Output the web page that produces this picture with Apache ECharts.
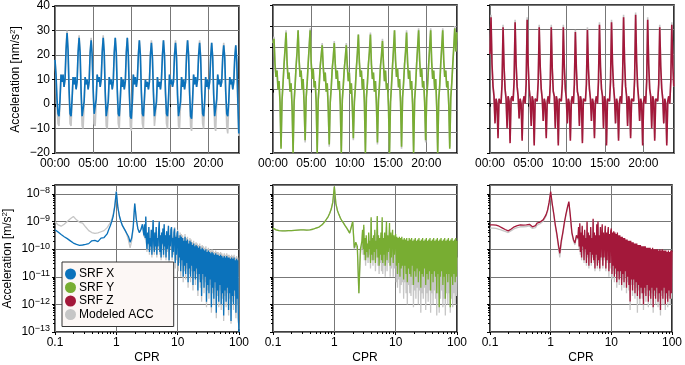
<!DOCTYPE html>
<html>
<head>
<meta charset="utf-8">
<script src="https://cdn.jsdelivr.net/npm/echarts@6/dist/echarts.min.js"></script>
<style>
  html, body { margin: 0; padding: 0; background: #fff; }
  #main { width: 685px; height: 365px; }
</style>
</head>
<body>
<div id="main"></div>
<script>
// time series, one sample every 7.86 min (12 samples per orbit), nm/s^2
var sampleMinutes = 7.86;

var accX = [
  18, 12, 2, -4, -5, 2, 12, 9, 12, 7, 10, 22,
  29, 22, 6, -4, -5, 2, 11, 8, 11, 6, 9, 21,
  27, 21, 5, -5, -5, 1, 11, 8, 10, 6, 9, 21,
  26, 20, 6, -4, -4, 2, 12, 9, 11, 7, 10, 21,
  27, 21, 5, -5, -5, 1, 11, 8, 10, 6, 9, 21,
  27, 21, 6, -4, -5, 2, 11, 7, 10, 6, 9, 21,
  27, 20, 5, -5, -6, 1, 12, 8, 11, 7, 10, 20,
  26, 20, 5, -4, -5, 2, 10, 7, 9, 6, 9, 20,
  25, 19, 5, -5, -5, 1, 11, 7, 9, 6, 10, 20,
  26, 20, 5, -4, -5, 2, 12, 8, 10, 7, 9, 20,
  25, 19, 4, -5, -5, 1, 11, 7, 10, 6, 9, 20,
  26, 20, 5, -5, -6, 2, 12, 8, 11, 7, 10, 20,
  25, 19, 5, -4, -5, 1, 11, 7, 10, 6, 9, 19,
  25, 19, 4, -5, -5, 2, 12, 8, 10, 7, 9, 19,
  24, 19, 5, -4, -5, 1, 11, 8, 10, 6, 9, 19,
  24, 17, 2, -12
];
var modelX = [
  18, 11, 0, -8, -9, 1, 12, 9, 12, 7, 10, 23,
  30, 22, 5, -8, -9, 1, 11, 8, 11, 6, 9, 21,
  28, 21, 4, -9, -10, 0, 11, 8, 10, 6, 9, 21,
  27, 20, 5, -8, -9, 1, 12, 9, 11, 7, 10, 21,
  28, 21, 4, -9, -10, 0, 11, 8, 10, 6, 9, 21,
  27, 21, 5, -8, -10, 1, 11, 7, 10, 6, 9, 21,
  27, 20, 4, -9, -11, 0, 12, 8, 11, 7, 10, 20,
  26, 20, 4, -8, -10, 1, 10, 7, 9, 6, 9, 20,
  26, 19, 4, -9, -9, 0, 11, 7, 9, 6, 10, 20,
  26, 20, 4, -8, -10, 1, 12, 8, 10, 7, 9, 20,
  26, 19, 3, -9, -10, 0, 11, 7, 10, 6, 9, 20,
  26, 20, 4, -9, -11, 1, 12, 8, 11, 7, 10, 20,
  26, 19, 4, -8, -10, 0, 11, 7, 10, 6, 9, 19,
  25, 19, 3, -9, -11, 1, 12, 8, 10, 7, 9, 19,
  25, 19, 4, -9, -12, 0, 11, 8, 10, 6, 9, 19,
  24, 17, 0, -13
];
var accY = [
  22, 24, 12, 6, 9, 0, 4, -6, -28, -5, 3, 12,
  19, 27, 13, 5, 8, -1, 3, -8, -30, -6, 2, 11,
  18, 28, 14, 6, 9, 0, 5, -7, -24, -4, 3, 12,
  20, 28, 13, 5, 10, 1, 4, -6, -30, -5, 2, 11,
  16, 21, 11, 4, 8, -1, 3, -9, -26, -6, 1, 10,
  15, 22, 12, 5, 9, 0, 4, -7, -30, -5, 2, 10,
  15, 21, 11, 4, 8, -2, 3, -8, -23, -6, 1, 10,
  17, 26, 13, 6, 9, 0, 5, -6, -30, -4, 3, 12,
  18, 26, 12, 5, 8, -1, 4, -7, -25, -5, 2, 11,
  16, 23, 12, 4, 9, 0, 3, -8, -30, -6, 2, 11,
  19, 28, 14, 6, 10, 1, 5, -6, -27, -4, 3, 12,
  18, 27, 13, 5, 9, 0, 4, -7, -30, -5, 2, 12,
  20, 28, 14, 6, 10, 1, 4, -6, -24, -4, 3, 12,
  20, 28, 13, 5, 9, 0, 5, -8, -30, -5, 2, 12,
  20, 28, 14, 6, 9, 1, 4, -7, -28, -4, 3, 12,
  20, 29, 18, 27
];
var modelY = [
  22, 25, 12, 6, 9, 0, 4, -6, -27, -5, 3, 12,
  19, 28, 13, 5, 8, -1, 3, -8, -29, -6, 2, 11,
  18, 28, 14, 6, 9, 0, 5, -7, -25, -4, 3, 12,
  20, 29, 13, 5, 10, 1, 4, -6, -29, -5, 2, 11,
  16, 22, 11, 4, 8, -1, 3, -9, -27, -6, 1, 10,
  15, 23, 12, 5, 9, 0, 4, -7, -29, -5, 2, 10,
  15, 22, 11, 4, 8, -2, 3, -8, -24, -6, 1, 10,
  17, 26, 13, 6, 9, 0, 5, -6, -29, -4, 3, 12,
  18, 27, 12, 5, 8, -1, 4, -7, -26, -5, 2, 11,
  16, 24, 12, 4, 9, 0, 3, -8, -29, -6, 2, 11,
  19, 28, 14, 6, 10, 1, 5, -6, -28, -4, 3, 12,
  18, 28, 13, 5, 9, 0, 4, -7, -29, -5, 2, 12,
  20, 29, 14, 6, 10, 1, 4, -6, -25, -4, 3, 12,
  20, 29, 13, 5, 9, 0, 5, -8, -29, -5, 2, 12,
  20, 29, 14, 6, 9, 1, 4, -7, -27, -4, 3, 12,
  20, 30, 18, 27
];
var accZ = [
  20, 35, 16, 7, 3, -8, 2, 0, -14, 2, 1, 0,
  8, 31, 15, 6, 2, -10, 3, 1, -16, 2, 3, 1,
  9, 33, 16, 7, 3, -6, 2, 0, -15, 1, 3, 0,
  8, 34, 16, 6, 2, -9, 3, 1, -17, 2, 2, 1,
  9, 31, 15, 6, 2, -7, 2, 0, -14, 1, 3, 0,
  8, 31, 14, 5, 3, -10, 3, 1, -17, 2, 2, 1,
  8, 31, 15, 6, 2, -8, 2, 0, -15, 1, 3, 0,
  8, 29, 14, 5, 3, -9, 3, 1, -16, 2, 2, 1,
  8, 30, 14, 6, 2, -7, 2, 0, -14, 1, 3, 0,
  9, 32, 15, 6, 3, -10, 3, 1, -17, 2, 2, 1,
  9, 33, 16, 7, 2, -8, 2, 0, -15, 1, 3, 0,
  10, 35, 17, 7, 3, -9, 3, 1, -14, 2, 2, 1,
  10, 36, 17, 7, 2, -7, 2, 0, -17, 1, 3, 0,
  9, 34, 16, 6, 3, -10, 3, 1, -15, 2, 2, 1,
  8, 31, 15, 6, 2, -8, 2, 0, -17, 1, 3, 0,
  9, 32, 16, 7
];
var modelZ = [
  20, 36, 16, 7, 3, -7, 2, 0, -13, 2, 1, 0,
  8, 32, 15, 6, 2, -9, 3, 1, -15, 2, 3, 1,
  9, 34, 16, 7, 3, -6, 2, 0, -14, 1, 3, 0,
  8, 35, 16, 6, 2, -8, 3, 1, -16, 2, 2, 1,
  9, 32, 15, 6, 2, -7, 2, 0, -13, 1, 3, 0,
  8, 32, 14, 5, 3, -9, 3, 1, -16, 2, 2, 1,
  8, 32, 15, 6, 2, -8, 2, 0, -14, 1, 3, 0,
  8, 30, 14, 5, 3, -8, 3, 1, -15, 2, 2, 1,
  8, 31, 14, 6, 2, -7, 2, 0, -13, 1, 3, 0,
  9, 33, 15, 6, 3, -9, 3, 1, -16, 2, 2, 1,
  9, 34, 16, 7, 2, -8, 2, 0, -14, 1, 3, 0,
  10, 36, 17, 7, 3, -8, 3, 1, -13, 2, 2, 1,
  10, 37, 17, 7, 2, -7, 2, 0, -16, 1, 3, 0,
  9, 35, 16, 6, 3, -9, 3, 1, -14, 2, 2, 1,
  8, 32, 15, 6, 2, -8, 2, 0, -16, 1, 3, 0,
  9, 33, 16, 7
];

// amplitude spectra, log10(m/s^2)
// low band: 40 points per decade from 0.1 CPR (58 points, up to ~2.7 CPR)
var lowFirstCpr = 0.1, lowPerDecade = 40;
// high band: 100 points per decade from 10^0.45 (~2.8 CPR) to 100 CPR
var highFirstLog = 0.45, highPerDecade = 100;

var specXLow = [
  -9.30, -9.34, -9.38, -9.43, -9.47, -9.51, -9.55, -9.59, -9.62, -9.66,
  -9.70, -9.74, -9.78, -9.81, -9.83, -9.85, -9.86, -9.86, -9.85, -9.84,
  -9.83, -9.82, -9.80, -9.76, -9.70, -9.66, -9.68, -9.72, -9.73, -9.70,
  -9.60, -9.56, -9.58, -9.54, -9.45, -9.30, -9.16, -9.00, -8.80, -8.45,
  -7.92, -8.50, -8.80, -9.00, -9.15, -9.25, -9.35, -9.45, -9.55, -9.75,
  -9.60, -9.20, -8.35, -8.90, -9.25, -9.40, -9.30, -9.10
];
var specXHigh = [
  -9.50, -9.10, -9.60, -8.82, -9.70, -10.00, -9.40, -9.80, -9.20, -10.10,
  -9.60, -9.90, -9.30, -10.20, -9.50, -8.95, -9.80, -10.10, -9.40, -9.90,
  -9.20, -10.20, -9.60, -9.90, -9.30, -9.00, -10.10, -9.50, -10.30, -9.40,
  -9.80, -9.25, -10.20, -9.10, -9.90, -9.50, -10.30, -9.35, -10.00, -9.60,
  -9.15, -10.40, -9.50, -9.90, -9.30, -9.20, -10.30, -9.60, -10.10, -9.40,
  -9.25, -10.50, -9.55, -10.20, -9.45, -9.35, -10.60, -9.60, -10.30, -9.50,
  -10.80, -9.55, -10.40, -9.60, -11.00, -9.70, -10.60, -9.55, -10.90, -9.70,
  -10.50, -9.65, -11.20, -9.80, -10.70, -9.70, -11.00, -9.75, -10.60, -9.85,
  -11.30, -9.80, -10.80, -9.90, -11.10, -9.85, -10.70, -9.90, -11.50, -9.95,
  -10.90, -9.90, -11.20, -10.00, -11.70, -9.95, -10.90, -10.00, -11.40, -10.05,
  -11.00, -10.00, -11.90, -10.10, -11.30, -10.05, -11.60, -10.10, -11.10, -10.15,
  -12.10, -10.10, -11.40, -10.15, -11.80, -10.20, -11.20, -10.15, -12.30, -10.20,
  -11.50, -10.20, -11.90, -10.25, -11.30, -10.20, -12.00, -10.25, -11.60, -10.30,
  -12.40, -10.25, -11.50, -10.30, -11.90, -10.25, -11.40, -10.30, -12.20, -10.30,
  -11.60, -10.35, -12.60, -10.30, -11.70, -10.35, -12.00, -10.30, -11.50, -10.40,
  -12.30, -10.35, -11.80, -10.40, -12.50, -13.00
];
var specModelXLow = [
  -9.02, -9.08, -9.12, -9.15, -9.17, -9.15, -9.10, -9.05, -9.00, -8.95,
  -8.90, -8.86, -8.82, -8.88, -8.94, -9.00, -9.03, -9.05, -9.06, -9.12,
  -9.20, -9.27, -9.33, -9.37, -9.40, -9.42, -9.43, -9.42, -9.41, -9.39,
  -9.37, -9.36, -9.33, -9.28, -9.22, -9.15, -9.05, -8.92, -8.72, -8.40,
  -7.90, -8.48, -8.80, -9.00, -9.15, -9.25, -9.35, -9.50, -9.70, -9.95,
  -9.70, -9.25, -8.35, -8.90, -9.25, -9.40, -9.35, -9.15
];
var specModelXHigh = [
  -9.55, -9.15, -9.65, -8.85, -9.75, -10.10, -9.45, -9.85, -9.20, -10.20,
  -9.60, -10.00, -9.30, -10.30, -9.50, -9.00, -9.85, -10.20, -9.40, -10.00,
  -9.20, -10.30, -9.60, -10.00, -9.30, -9.05, -10.20, -9.50, -10.40, -9.40,
  -9.85, -9.25, -10.30, -9.10, -10.00, -9.50, -10.40, -9.35, -10.10, -9.60,
  -9.15, -10.50, -9.50, -10.00, -9.30, -9.20, -10.40, -9.55, -10.20, -9.40,
  -9.20, -10.70, -9.50, -10.40, -9.40, -9.30, -10.80, -9.50, -10.50, -9.40,
  -11.00, -9.45, -10.60, -9.50, -11.20, -9.60, -10.80, -9.45, -11.10, -9.60,
  -10.70, -9.55, -11.40, -9.70, -10.90, -9.60, -11.20, -9.65, -10.80, -9.75,
  -11.50, -9.70, -11.00, -9.80, -11.30, -9.75, -10.90, -9.80, -11.70, -9.85,
  -11.10, -9.80, -11.40, -9.90, -11.90, -9.85, -11.10, -9.90, -11.60, -9.95,
  -11.20, -9.90, -12.10, -10.00, -11.50, -9.95, -11.80, -10.00, -11.30, -10.05,
  -12.30, -10.00, -11.60, -10.05, -12.00, -10.10, -11.40, -10.05, -12.50, -10.10,
  -11.70, -10.10, -12.10, -10.15, -11.50, -10.10, -12.20, -10.15, -11.80, -10.20,
  -12.60, -10.15, -11.70, -10.20, -12.10, -10.15, -11.60, -10.20, -12.40, -10.20,
  -11.80, -10.25, -12.70, -10.20, -11.90, -10.25, -12.20, -10.20, -11.70, -10.30,
  -12.50, -10.25, -12.00, -10.30, -12.60, -12.90
];
var specYLow = [
  -9.24, -9.27, -9.30, -9.32, -9.33, -9.34, -9.34, -9.34, -9.34, -9.33,
  -9.33, -9.33, -9.33, -9.32, -9.32, -9.32, -9.31, -9.31, -9.30, -9.30,
  -9.30, -9.30, -9.31, -9.31, -9.30, -9.29, -9.28, -9.26, -9.24, -9.22,
  -9.20, -9.17, -9.12, -9.06, -8.99, -8.92, -8.82, -8.70, -8.55, -8.30,
  -7.73, -8.35, -8.60, -8.75, -8.88, -8.98, -9.06, -9.15, -9.23, -9.32,
  -9.42, -9.48, -9.00, -9.95, -9.75, -9.90, -11.60, -10.00
];
var specYHigh = [
  -9.70, -9.30, -10.00, -9.12, -10.20, -9.60, -10.40, -9.50, -10.10, -9.80,
  -10.30, -9.40, -10.00, -9.70, -10.50, -8.85, -10.20, -9.60, -10.40, -9.50,
  -10.10, -9.30, -10.50, -9.70, -10.00, -8.80, -10.30, -9.50, -10.60, -9.60,
  -10.20, -9.40, -10.40, -8.85, -10.50, -9.60, -10.20, -9.40, -10.60, -9.70,
  -9.00, -10.40, -9.50, -10.10, -9.70, -9.05, -10.60, -9.40, -10.30, -9.60,
  -9.30, -10.50, -9.50, -10.20, -9.60, -9.45, -10.60, -9.55, -10.90, -9.60,
  -10.50, -9.55, -11.00, -9.60, -10.70, -9.55, -10.60, -9.65, -11.10, -9.60,
  -10.60, -9.65, -10.90, -9.60, -11.20, -9.70, -10.70, -9.60, -10.90, -9.65,
  -11.00, -9.60, -10.60, -9.70, -11.30, -9.65, -10.80, -9.60, -11.00, -9.70,
  -10.70, -9.65, -11.20, -9.60, -10.80, -9.70, -11.40, -9.65, -10.90, -9.60,
  -11.00, -9.70, -10.70, -9.65, -11.30, -9.60, -10.90, -9.70, -11.10, -9.65,
  -10.80, -9.60, -11.50, -9.70, -10.90, -9.65, -11.20, -9.60, -10.80, -9.70,
  -11.00, -9.65, -11.60, -9.60, -10.90, -9.70, -12.10, -9.65, -11.00, -9.60,
  -10.80, -9.70, -11.30, -9.65, -11.00, -9.60, -11.80, -9.70, -10.90, -9.65,
  -11.20, -9.60, -10.90, -9.70, -12.10, -9.65, -11.00, -9.60, -11.30, -9.70,
  -10.90, -9.65, -11.20, -9.60, -11.00, -9.70
];
var specModelYLow = [
  -9.24, -9.27, -9.30, -9.32, -9.33, -9.34, -9.34, -9.34, -9.34, -9.33,
  -9.33, -9.33, -9.33, -9.32, -9.32, -9.32, -9.31, -9.31, -9.30, -9.30,
  -9.30, -9.30, -9.31, -9.31, -9.30, -9.29, -9.28, -9.26, -9.24, -9.22,
  -9.20, -9.17, -9.12, -9.06, -8.99, -8.92, -8.82, -8.70, -8.55, -8.30,
  -7.73, -8.35, -8.60, -8.75, -8.88, -8.98, -9.06, -9.15, -9.23, -9.32,
  -9.42, -9.48, -9.00, -10.00, -9.85, -10.00, -11.60, -10.20
];
var specModelYHigh = [
  -9.80, -9.40, -10.20, -9.20, -10.40, -9.70, -10.60, -9.60, -10.30, -9.90,
  -10.50, -9.50, -10.20, -9.80, -10.70, -8.90, -10.40, -9.70, -10.60, -9.60,
  -10.40, -9.40, -10.80, -9.80, -10.30, -8.85, -10.60, -9.60, -10.90, -9.70,
  -10.50, -9.50, -10.80, -8.95, -10.90, -9.70, -10.60, -9.50, -11.00, -9.80,
  -9.20, -10.80, -9.70, -10.50, -9.90, -9.30, -11.00, -9.70, -10.70, -9.90,
  -9.60, -11.00, -9.80, -10.70, -9.90, -9.80, -11.20, -9.90, -11.40, -9.95,
  -11.10, -9.90, -11.60, -10.00, -11.30, -9.95, -11.20, -10.00, -11.80, -9.95,
  -11.20, -10.00, -11.60, -9.95, -12.00, -10.05, -11.30, -10.00, -11.60, -10.05,
  -11.70, -10.00, -11.30, -10.05, -12.10, -10.00, -11.50, -10.05, -11.80, -10.10,
  -11.40, -10.05, -12.00, -10.05, -11.50, -10.10, -12.30, -10.05, -11.60, -10.10,
  -11.80, -10.10, -11.40, -10.10, -12.20, -10.05, -11.60, -10.10, -11.90, -10.15,
  -11.50, -10.10, -12.30, -10.15, -11.60, -10.10, -12.00, -10.15, -11.50, -10.20,
  -11.80, -10.15, -12.40, -10.15, -11.60, -10.20, -12.30, -10.15, -11.80, -10.20,
  -11.50, -10.20, -12.10, -10.15, -11.80, -10.20, -12.40, -10.25, -11.60, -10.20,
  -12.00, -10.20, -11.60, -10.25, -12.30, -10.20, -11.80, -10.25, -12.10, -10.30,
  -11.60, -10.25, -12.00, -10.30, -11.70, -10.30
];
var specZLow = [
  -9.12, -9.12, -9.12, -9.13, -9.13, -9.14, -9.17, -9.20, -9.23, -9.26,
  -9.29, -9.32, -9.34, -9.31, -9.27, -9.23, -9.19, -9.17, -9.15, -9.13,
  -9.12, -9.12, -9.13, -9.13, -9.12, -9.11, -9.10, -9.14, -9.19, -9.24,
  -9.15, -9.06, -9.04, -9.02, -8.98, -8.94, -8.85, -8.75, -8.58, -8.30,
  -7.92, -8.35, -8.70, -9.10, -9.42, -9.80, -10.15, -9.70, -9.40, -9.05,
  -8.75, -8.50, -8.28, -8.80, -9.40, -9.65, -9.78, -9.50
];
var specZHigh = [
  -9.60, -9.20, -9.90, -9.06, -10.10, -9.40, -10.30, -9.15, -9.90, -9.50,
  -10.40, -9.30, -10.00, -9.60, -10.50, -9.00, -10.20, -9.40, -10.60, -9.50,
  -10.10, -9.20, -10.50, -9.60, -10.20, -8.90, -10.40, -9.40, -10.70, -9.50,
  -10.20, -9.10, -10.60, -9.00, -10.40, -9.50, -10.70, -9.20, -10.30, -9.60,
  -9.10, -10.60, -9.40, -10.30, -9.60, -9.15, -10.70, -9.40, -10.40, -9.50,
  -9.20, -10.80, -9.45, -10.50, -9.35, -9.25, -10.90, -9.40, -10.60, -9.35,
  -11.00, -9.40, -10.70, -9.45, -11.20, -9.40, -10.80, -9.50, -11.10, -9.50,
  -10.80, -9.55, -11.30, -9.55, -10.90, -9.60, -11.20, -9.60, -10.80, -9.65,
  -11.40, -9.65, -11.00, -9.70, -11.30, -9.70, -11.90, -9.70, -11.10, -9.75,
  -11.50, -9.75, -11.10, -9.80, -11.60, -9.80, -11.20, -9.80, -11.70, -9.85,
  -11.30, -9.85, -11.80, -9.85, -11.40, -9.90, -11.60, -9.90, -12.00, -9.90,
  -11.40, -9.90, -11.70, -9.95, -11.30, -9.95, -11.90, -9.95, -11.50, -9.95,
  -11.80, -10.00, -11.40, -9.95, -12.10, -10.00, -11.50, -10.00, -11.80, -10.00,
  -11.40, -10.00, -11.90, -10.05, -11.60, -10.00, -12.20, -10.05, -11.50, -10.00,
  -11.80, -10.05, -11.40, -10.05, -12.00, -10.05, -11.60, -10.10, -11.90, -10.05,
  -11.50, -10.10, -11.80, -10.05, -11.60, -10.05
];
var specModelZLow = [
  -9.24, -9.24, -9.24, -9.24, -9.25, -9.26, -9.28, -9.30, -9.32, -9.34,
  -9.36, -9.38, -9.40, -9.37, -9.33, -9.29, -9.26, -9.24, -9.22, -9.20,
  -9.19, -9.19, -9.19, -9.19, -9.18, -9.17, -9.16, -9.20, -9.25, -9.30,
  -9.22, -9.13, -9.10, -9.08, -9.04, -8.99, -8.90, -8.80, -8.62, -8.33,
  -7.94, -8.38, -8.74, -9.15, -9.48, -9.90, -10.30, -9.80, -9.45, -9.10,
  -8.80, -8.55, -8.32, -8.85, -9.45, -9.70, -9.85, -9.55
];
var specModelZHigh = [
  -9.65, -9.25, -10.00, -9.10, -10.20, -9.45, -10.40, -9.20, -10.00, -9.55,
  -10.50, -9.35, -10.10, -9.65, -10.60, -9.05, -10.30, -9.45, -10.70, -9.55,
  -10.20, -9.25, -10.60, -9.65, -10.30, -8.95, -10.50, -9.45, -10.80, -9.55,
  -10.30, -9.15, -10.70, -9.05, -10.50, -9.55, -10.80, -9.25, -10.40, -9.65,
  -9.15, -10.70, -9.45, -10.40, -9.65, -9.20, -10.80, -9.45, -10.50, -9.55,
  -9.25, -11.00, -9.50, -10.70, -9.40, -9.30, -11.10, -9.45, -10.80, -9.40,
  -11.20, -9.45, -10.90, -9.50, -11.40, -9.45, -11.00, -9.55, -11.30, -9.55,
  -11.00, -9.60, -11.50, -9.60, -11.10, -9.65, -11.40, -9.65, -11.00, -9.70,
  -11.60, -9.70, -11.20, -9.75, -11.50, -9.75, -12.20, -9.75, -11.30, -9.80,
  -11.70, -9.80, -11.30, -9.85, -11.80, -9.85, -11.40, -9.85, -12.30, -9.90,
  -11.50, -9.90, -12.00, -9.90, -11.60, -9.95, -11.80, -9.95, -12.20, -9.95,
  -11.60, -9.95, -11.90, -10.00, -11.50, -10.00, -12.10, -10.00, -11.70, -10.00,
  -12.00, -10.05, -11.60, -10.00, -12.30, -10.05, -11.70, -10.05, -12.00, -10.05,
  -11.60, -10.05, -12.10, -10.10, -11.80, -10.05, -12.40, -10.10, -11.70, -10.05,
  -12.00, -10.10, -11.60, -10.10, -12.20, -10.10, -11.80, -10.15, -12.10, -10.10,
  -11.70, -10.15, -12.00, -10.10, -11.80, -10.10
];

var colX = '#0b72bb', colY = '#78ad32', colZ = '#a3183a', colModel = '#c6c6c6';
var panelLefts = [55, 273, 490];

function timeSeries(vals) {
  return vals.map(function (v, i) { return [i * sampleMinutes / 60, v]; });
}
function spectrum(lowVals, highVals) {
  var out = lowVals.map(function (lg, i) {
    return [lowFirstCpr * Math.pow(10, i / lowPerDecade), Math.pow(10, lg)];
  });
  highVals.forEach(function (lg, j) {
    out.push([Math.pow(10, highFirstLog + j / highPerDecade), Math.pow(10, lg)]);
  });
  return out;
}

var grids = [], xAxes = [], yAxes = [], series = [];
var tick = { show: true, inside: false, length: 3, lineStyle: { color: '#000', width: 1 } };
var split = { show: true, lineStyle: { color: '#777', width: 1 } };

for (var p = 0; p < 6; p++) {
  var col = p % 3, bottom = p >= 3;
  grids.push({
    left: panelLefts[col], top: bottom ? 185 : 5, width: 184, height: bottom ? 147 : 148,
    show: true, borderColor: '#000', borderWidth: 1.6, backgroundColor: 'transparent'
  });
  if (!bottom) {
    xAxes.push({
      gridIndex: p, type: 'value', min: 0, max: 24, interval: 5,
      axisLine: { show: false }, axisTick: tick, splitLine: split,
      axisLabel: {
        color: '#000', fontSize: 12, margin: 5, showMaxLabel: false,
        formatter: function (v) { return (v < 10 ? '0' : '') + v + ':00'; }
      }
    });
    yAxes.push({
      gridIndex: p, type: 'value', min: col === 1 ? -30 : -20, max: 40, interval: 10,
      axisLine: { show: false }, axisTick: tick, splitLine: split,
      axisLabel: {
        show: col === 0, color: '#000', fontSize: 12, margin: 5,
        formatter: function (v) { return String(v).replace('-', '\u2212'); }
      },
      name: col === 0 ? 'Acceleration [nm/s{s|2}]' : '',
      nameLocation: 'middle', nameGap: 32,
      nameTextStyle: { color: '#000', fontSize: 12, rich: { s: { fontSize: 8, padding: [0, 0, 6, 0] } } }
    });
  } else {
    xAxes.push({
      gridIndex: p, type: 'log', logBase: 10, min: 0.1, max: 100,
      axisLine: { show: false }, axisTick: tick, splitLine: split,
      minorTick: { show: true, splitNumber: 9, length: 2, lineStyle: { color: '#000' } },
      axisLabel: { color: '#000', fontSize: 12, margin: 5 },
      name: 'CPR', nameLocation: 'middle', nameGap: 20,
      nameTextStyle: { color: '#000', fontSize: 12 }
    });
    yAxes.push({
      gridIndex: p, type: 'log', logBase: 10, min: 1e-13, max: 2.1e-8,
      axisLine: { show: false }, axisTick: tick, splitLine: split,
      minorTick: { show: true, splitNumber: 9, length: 2, lineStyle: { color: '#000' } },
      axisLabel: {
        show: col === 0, color: '#000', fontSize: 12, margin: 5, showMaxLabel: false,
        formatter: function (v) {
          var e = Math.round(Math.log10(v));
          return '10{s|' + String(e).replace('-', '\u2212') + '}';
        },
        rich: { s: { fontSize: 9, padding: [0, 0, 6, 0] } }
      },
      name: col === 0 ? 'Acceleration [m/s{s|2}]' : '',
      nameLocation: 'middle', nameGap: 40,
      nameTextStyle: { color: '#000', fontSize: 12, rich: { s: { fontSize: 8, padding: [0, 0, 6, 0] } } }
    });
  }
}

function line(name, color, idx, data, z, width) {
  return {
    name: name, type: 'line', xAxisIndex: idx, yAxisIndex: idx, data: data,
    showSymbol: false, symbol: 'none', z: z, silent: true,
    lineStyle: { color: color, width: width }, itemStyle: { color: color }
  };
}

series.push(line('Modeled ACC', colModel, 0, timeSeries(modelX), 2, 1.6));
series.push(line('SRF X', colX, 0, timeSeries(accX), 3, 1.6));
series.push(line('Modeled ACC', colModel, 1, timeSeries(modelY), 2, 1.6));
series.push(line('SRF Y', colY, 1, timeSeries(accY), 3, 1.6));
series.push(line('Modeled ACC', colModel, 2, timeSeries(modelZ), 2, 1.6));
series.push(line('SRF Z', colZ, 2, timeSeries(accZ), 3, 1.6));
series.push(line('Modeled ACC', colModel, 3, spectrum(specModelXLow, specModelXHigh), 2, 1.3));
series.push(line('SRF X', colX, 3, spectrum(specXLow, specXHigh), 3, 1.3));
series.push(line('Modeled ACC', colModel, 4, spectrum(specModelYLow, specModelYHigh), 2, 1.3));
series.push(line('SRF Y', colY, 4, spectrum(specYLow, specYHigh), 3, 1.3));
series.push(line('Modeled ACC', colModel, 5, spectrum(specModelZLow, specModelZHigh), 2, 1.3));
series.push(line('SRF Z', colZ, 5, spectrum(specZLow, specZHigh), 3, 1.3));

var myChart = echarts.init(document.getElementById('main'));
myChart.setOption({
  animation: false,
  textStyle: { fontFamily: 'Liberation Sans, Arial, sans-serif' },
  grid: grids,
  xAxis: xAxes,
  yAxis: yAxes,
  legend: {
    data: ['SRF X', 'SRF Y', 'SRF Z', 'Modeled ACC'],
    orient: 'vertical', left: 62, top: 262, z: 10,
    icon: 'circle', itemWidth: 11, itemHeight: 11, itemGap: 1.5,
    textStyle: { color: '#000', fontSize: 12, padding: [0, 0, 0, -2] },
    backgroundColor: '#fcf7f5', borderColor: '#333', borderWidth: 1,
    padding: [6, 20, 6, 3], selectedMode: false
  },
  series: series
});
</script>
</body>
</html>
